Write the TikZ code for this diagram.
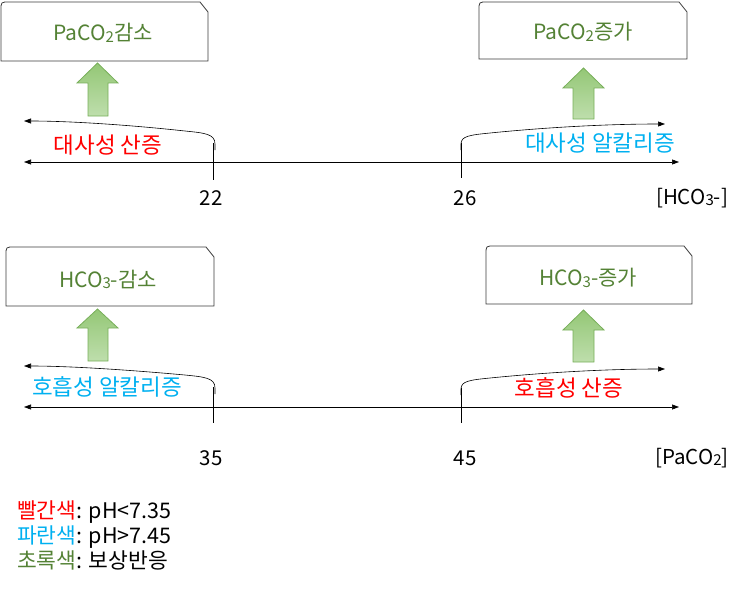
\documentclass[tikz,border=0pt]{standalone}
\usepackage{fontspec}
\setmainfont{Noto Sans CJK KR}
\usetikzlibrary{arrows.meta}
\definecolor{tred}{RGB}{255,0,0}
\definecolor{tblue}{RGB}{0,176,240}
\definecolor{tgreen}{RGB}{84,130,53}
\definecolor{agreen}{RGB}{120,175,90}
\definecolor{atop}{RGB}{148,199,118}
\definecolor{abot}{RGB}{190,222,172}
\definecolor{lgray}{RGB}{60,60,60}
\newcommand{\sub}[1]{\raisebox{-0.1ex}{\fontsize{15}{15}\selectfont #1}}
\tikzset{
  lbl/.style={font=\fontsize{20.5}{22}\selectfont, inner sep=0pt},
  klbl/.style={font=\fontsize{22.5}{24}\selectfont, inner sep=0pt},
  boxtxt/.style={font=\fontsize{21}{22}\selectfont, inner sep=0pt, text=tgreen},
  leg/.style={font=\fontsize{21.5}{22}\selectfont, inner sep=0pt, anchor=west},
  axis/.style={draw=black, line width=0.6pt, {Triangle[length=7pt,width=5pt]}-{Triangle[length=7pt,width=5pt]}},
  curvearrow/.style={draw=black, line width=0.6pt, -{Triangle[length=7pt,width=5pt]}},
  tick/.style={draw=black, line width=0.7pt},
  boxline/.style={draw=lgray, line width=0.8pt},
  garrow/.style={draw=agreen, line width=0.8pt, top color=atop, bottom color=abot},
}
\newcommand{\snipbox}[5]{% name, x1, y1, x2, y2
  \path (#2,#3) coordinate (#1nw) (#4,#5) coordinate (#1se);
  \draw[boxline] (#2,#5) -- (#2,#3+8) .. controls (#2,#3) .. (#2+8,#3) -- (#4-8,#3) -- (#4,#3+10) -- (#4,#5) -- cycle;
}
\begin{document}
\begin{tikzpicture}[x=1pt,y=-1pt]
\useasboundingbox (0,0) rectangle (743,599);

% ---------- top section ----------
\snipbox{b1}{1}{2}{208}{61}
\node[boxtxt] (t1) at (103,33) {PaCO\sub{2}감소};
\snipbox{b2}{479}{2}{687}{59}
\node[boxtxt] (t2) at (583,32) {PaCO\sub{2}증가};

\path[garrow] (88,116) -- (88,83) -- (77,83) -- (97.5,63) -- (118,83) -- (108,83) -- (108,116) -- cycle;
\path[garrow] (573,119) -- (573,88) -- (563,88) -- (583.5,68) -- (604,88) -- (594,88) -- (594,119) -- cycle;

\coordinate (a1l) at (24,162);
\coordinate (a1r) at (679,162);
\draw[axis] (a1l) -- (a1r);

\coordinate (k1t) at (213,143);
\coordinate (k1b) at (213,180);
\draw[tick] (k1t) -- (k1b);
\coordinate (k2t) at (461,143);
\coordinate (k2b) at (461,178);
\draw[tick] (k2t) -- (k2b);

\coordinate (c1s) at (215,150);
\coordinate (c1e) at (24,121);
\draw[curvearrow] (c1s) -- (215,144) .. controls (215,134) and (205,133) .. (185,131) .. controls (130,125) and (70,121) .. (c1e);
\coordinate (c2s) at (461,150);
\coordinate (c2e) at (665,124);
\draw[curvearrow] (c2s) -- (461,144) .. controls (461,136) and (470,135) .. (490,133) .. controls (550,127) and (610,124) .. (c2e);

\node[klbl, text=tred] (l1) at (108,145) {대사성 산증};
\node[klbl, text=tblue] (l2) at (600,143) {대사성 알칼리증};
\node[lbl] (n22) at (211,198) {22};
\node[lbl] (n26) at (465,198) {26};
\node[lbl] (u1) at (692,198) {[HCO\sub{3}-]};

% ---------- bottom section ----------
\snipbox{b3}{6}{247}{214}{306}
\node[boxtxt] (t3) at (108,279) {HCO\sub{3}-감소};
\snipbox{b4}{486}{246}{692}{304}
\node[boxtxt] (t4) at (588,278) {HCO\sub{3}-증가};

\path[garrow] (88,361) -- (88,328) -- (77,328) -- (97.5,309) -- (118,328) -- (108,328) -- (108,361) -- cycle;
\path[garrow] (573,362) -- (573,330) -- (563,330) -- (583.5,310) -- (604,330) -- (594,330) -- (594,362) -- cycle;

\coordinate (a2l) at (24,407);
\coordinate (a2r) at (679,407);
\draw[axis] (a2l) -- (a2r);

\coordinate (k3t) at (213,387);
\coordinate (k3b) at (213,423);
\draw[tick] (k3t) -- (k3b);
\coordinate (k4t) at (461,388);
\coordinate (k4b) at (461,423);
\draw[tick] (k4t) -- (k4b);

\coordinate (c3s) at (215,394);
\coordinate (c3e) at (24,366);
\draw[curvearrow] (c3s) -- (215,388) .. controls (215,378) and (205,377) .. (185,375) .. controls (130,370) and (70,366) .. (c3e);
\coordinate (c4s) at (461,395);
\coordinate (c4e) at (665,369);
\draw[curvearrow] (c4s) -- (461,389) .. controls (461,381) and (470,380) .. (490,378) .. controls (550,372) and (610,369) .. (c4e);

\node[klbl, text=tblue] (l3) at (107,387) {호흡성 알칼리증};
\node[klbl, text=tred] (l4) at (569,388) {호흡성 산증};
\node[lbl] (n35) at (211,458) {35};
\node[lbl] (n45) at (465,458) {45};
\node[lbl] (u2) at (692,458) {[PaCO\sub{2}]};

% ---------- legend ----------
\node[leg] (g1) at (17,512) {\textcolor{tred}{빨간색}: pH<7.35};
\node[leg] (g2) at (17,537) {\textcolor{tblue}{파란색}: pH>7.45};
\node[leg] (g3) at (17,560) {\textcolor{tgreen}{초록색}: 보상반응};
\end{tikzpicture}
\end{document}
